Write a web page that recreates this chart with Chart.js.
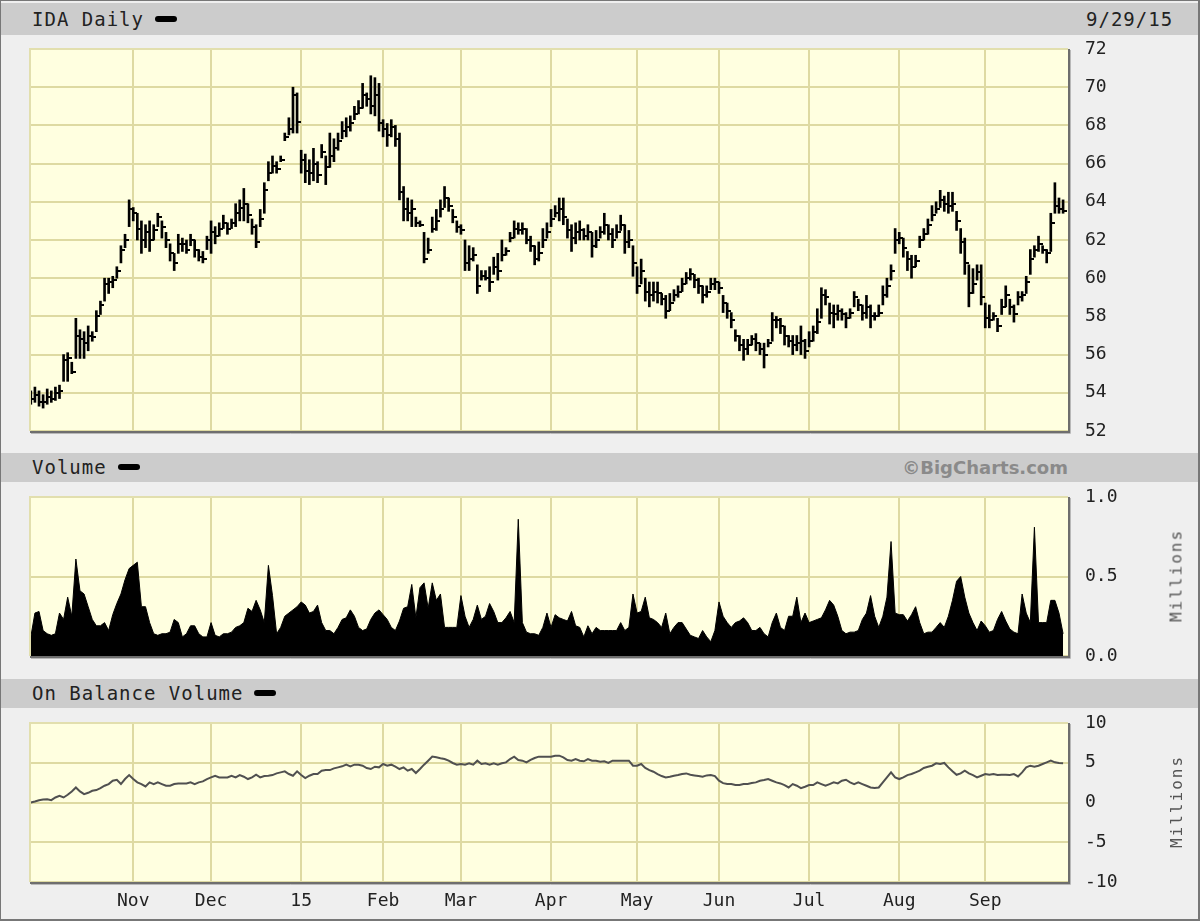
<!DOCTYPE html>
<html lang="en">
<head>
<meta charset="UTF-8">
<title>IDA Daily</title>
<script src="https://cdn.jsdelivr.net/npm/chart.js"></script>
<style>
  body { margin: 0; background: #eeeeee; }
  #frame { position: relative; width: 1200px; height: 921px; background: #efefef; overflow: hidden;
           font-family: "DejaVu Sans Mono", monospace; color: #222; }
  #edge { position: absolute; left: 0; top: 0; width: 1200px; height: 921px; box-sizing: border-box;
          border: 1px solid #777; border-right-width: 2px; border-bottom-width: 2px; pointer-events: none; }
  .hdr { position: absolute; left: 1px; right: 2px; background: #cccccc; font-size: 19px; letter-spacing: 1px; }
  .hdr .ttl { position: absolute; left: 31px; }
  .hdr .dash { display: inline-block; width: 22px; height: 6px; background: #000; border-radius: 3px;
               margin-left: 11px; vertical-align: middle; position: relative; top: -2px; }
  .hdr .date { position: absolute; left: 1085px; }
  .hdr .brand { position: absolute; right: 130px; font-family: "DejaVu Sans", sans-serif; font-weight: bold;
                font-size: 18px; letter-spacing: 0; color: #8a8a8a; }
  .unit { position: absolute; left: 1126px; width: 100px; text-align: center; font-size: 16px; letter-spacing: 2px;
          color: #555; transform: rotate(-90deg); }
  canvas { position: absolute; left: 0; }
</style>
</head>
<body>
<div id="frame">
  <div class="hdr" style="top:3px;height:32px;line-height:32px"><span class="ttl">IDA Daily<i class="dash"></i></span><span class="date">9/29/15</span></div>
  <canvas id="price" width="1200" height="410" style="top:36px"></canvas>

  <div class="hdr" style="top:453px;height:29px;line-height:29px"><span class="ttl">Volume<i class="dash"></i></span><span class="brand">©BigCharts.com</span></div>
  <canvas id="volume" width="1200" height="190" style="top:484px"></canvas>
  <div class="unit" style="top:566px">Millions</div>

  <div class="hdr" style="top:679px;height:29px;line-height:29px"><span class="ttl">On Balance Volume<i class="dash"></i></span></div>
  <canvas id="obv" width="1200" height="210" style="top:710px"></canvas>
  <div class="unit" style="top:792px">Millions</div>

  <div id="edge"></div>
</div>

<script>
// trading day index of first session of each month (0 = 9/29/14)
const monthStarts = [25, 44, 66, 86, 105, 127, 148, 168, 190, 212, 233];
const monthLabels = ['Nov', 'Dec', '15', 'Feb', 'Mar', 'Apr', 'May', 'Jun', 'Jul', 'Aug', 'Sep'];

// daily price, USD
const highs = [
  54.1,54.3,54.1,53.9,54.2,54.1,54.3,54.4,56.0,56.1,
  55.6,57.9,57.3,57.2,57.5,57.2,58.3,58.8,60.0,60.0,
  60.1,60.6,61.7,62.3,64.1,63.7,63.4,63.0,62.8,63.0,
  62.8,63.4,63.0,62.4,61.8,61.3,62.3,62.1,62.0,62.3,
  62.0,61.5,61.4,62.2,63.0,62.7,62.9,63.3,62.9,63.1,
  63.9,64.1,64.7,63.9,63.1,62.8,63.6,65.0,66.1,66.4,
  66.1,66.4,67.6,68.4,70.0,69.7,66.7,66.5,66.2,66.8,
  66.1,67.0,66.4,67.6,67.3,67.6,68.2,68.4,68.5,69.0,
  69.3,70.2,69.7,70.6,70.5,70.2,68.3,68.1,68.3,68.0,
  67.6,64.8,64.2,64.1,63.2,63.0,62.4,62.1,63.2,63.6,
  64.1,64.8,64.2,63.6,63.0,62.8,62.0,61.7,61.6,60.7,
  60.4,60.4,60.6,61.1,61.3,62.0,61.6,62.4,63.0,62.9,
  62.9,62.6,62.2,61.7,61.9,62.6,62.9,63.6,63.8,64.2,
  64.2,63.1,62.8,62.9,63.0,62.6,62.8,62.4,62.5,62.7,
  63.4,62.8,62.6,62.8,63.3,62.8,62.5,61.7,60.6,61.0,
  60.0,59.8,59.8,59.8,59.2,59.1,59.2,59.4,59.6,60.0,
  60.3,60.5,60.2,60.0,59.6,59.6,60.0,60.0,59.8,59.1,
  58.7,58.2,57.3,57.0,56.8,56.8,57.0,57.1,56.6,56.6,
  56.8,58.2,58.0,57.9,57.5,57.0,57.0,57.0,57.5,56.8,
  57.2,57.5,58.4,59.5,59.4,58.7,58.6,58.6,58.4,58.2,
  58.4,59.3,58.9,58.6,59.1,58.6,58.2,58.6,59.6,60.0,
  60.7,62.6,62.4,62.1,61.4,61.2,61.2,62.2,62.6,63.1,
  63.8,64.0,64.6,64.3,64.5,64.5,63.5,62.6,62.1,60.7,
  60.5,60.7,60.7,58.7,58.6,58.2,57.9,58.9,59.6,58.9,
  58.6,59.3,59.3,60.1,61.5,61.7,62.2,61.7,61.5,63.4,
  65.0,64.2,64.1
];
const lows = [
  53.4,53.5,53.3,53.2,53.4,53.5,53.6,53.7,54.6,54.6,
  55.0,55.8,55.8,55.8,56.2,56.7,57.2,58.1,58.8,59.2,
  59.5,60.0,60.8,61.6,62.7,63.0,62.0,61.3,61.6,61.4,
  62.0,62.7,62.1,61.6,60.9,60.4,61.3,61.4,61.3,61.7,
  61.1,60.9,60.8,61.5,61.3,61.8,62.2,62.6,62.3,62.6,
  62.7,63.0,63.0,62.9,62.3,61.6,62.7,63.4,65.1,65.5,
  65.5,66.1,67.2,67.5,67.6,67.6,65.5,65.0,64.9,65.1,
  65.0,66.3,64.9,65.8,66.1,66.7,67.3,67.4,67.7,68.3,
  68.6,68.9,69.0,68.6,68.5,67.7,67.4,66.9,67.4,66.9,
  64.1,63.0,63.0,62.7,62.7,62.7,60.8,61.3,62.4,62.5,
  63.2,63.7,63.5,62.9,62.4,62.3,60.4,60.4,60.9,59.2,
  59.9,59.9,59.3,60.2,59.9,60.9,61.2,61.9,62.1,62.3,
  62.3,61.8,61.4,60.7,60.9,61.6,62.1,62.7,63.2,63.0,
  62.8,62.1,61.4,61.8,62.0,62.0,62.0,61.1,61.6,62.1,
  62.3,62.0,61.6,62.1,62.5,61.3,61.6,60.1,59.2,59.7,
  58.8,58.5,58.8,58.7,58.6,57.9,58.3,58.8,59.0,59.3,
  59.7,59.9,59.5,59.2,58.7,59.0,59.4,59.4,59.2,58.2,
  57.9,57.4,56.7,56.2,55.7,56.0,56.5,56.2,56.0,55.3,
  56.4,56.7,57.4,57.1,56.5,56.4,56.0,56.2,56.0,55.8,
  56.4,56.7,57.1,57.9,58.6,57.6,57.4,57.8,57.8,57.4,
  57.9,58.5,58.3,57.8,57.9,57.4,57.8,58.0,58.6,59.0,
  59.9,61.3,61.8,61.1,60.4,60.0,60.6,61.6,62.0,62.3,
  63.0,63.4,63.7,63.5,63.4,63.5,62.5,61.3,60.2,58.5,
  59.2,59.9,58.6,57.4,57.4,57.8,57.2,58.1,58.5,58.1,
  57.7,58.6,58.8,59.2,60.2,61.1,61.4,61.3,60.8,61.4,
  63.4,63.4,63.4
];
const closes = [
  53.7,53.9,53.5,53.5,53.8,53.7,54.0,54.1,55.7,55.8,
  55.1,57.0,56.8,56.6,57.0,56.9,58.0,58.6,59.7,59.8,
  59.9,60.4,61.5,62.0,63.6,63.4,62.6,62.0,62.4,62.0,
  62.5,63.2,62.7,62.0,61.3,60.8,61.8,61.8,61.5,62.0,
  61.5,61.1,61.0,62.0,62.4,62.2,62.6,62.9,62.6,62.9,
  63.4,63.7,63.9,63.3,62.7,61.9,63.1,64.6,65.5,65.9,
  65.7,66.2,67.4,67.8,69.6,68.2,66.2,65.6,65.5,66.0,
  65.4,66.6,65.8,66.4,66.8,67.2,67.7,67.9,68.1,68.6,
  68.9,69.6,69.4,69.0,69.6,68.1,67.8,67.5,67.9,67.3,
  64.5,63.6,63.4,63.6,62.9,62.8,61.0,61.5,62.6,63.0,
  63.6,64.2,63.8,63.2,62.7,62.5,60.8,61.0,61.2,59.6,
  60.1,60.0,59.8,60.6,60.4,61.2,61.4,62.1,62.6,62.5,
  62.6,62.0,61.7,61.0,61.3,62.0,62.4,63.1,63.4,63.6,
  63.2,62.5,62.1,62.4,62.5,62.2,62.4,61.7,62.0,62.4,
  62.8,62.3,62.0,62.4,62.8,61.9,62.0,60.8,59.6,60.4,
  59.3,59.1,59.3,59.2,58.9,58.3,58.7,59.1,59.3,59.7,
  60.0,60.2,59.9,59.6,59.1,59.3,59.7,59.8,59.5,58.7,
  58.3,57.8,57.0,56.5,56.3,56.5,56.8,56.6,56.3,56.0,
  56.6,57.8,57.8,57.5,57.0,56.7,56.5,56.6,56.7,56.2,
  56.7,57.2,57.7,59.1,59.0,58.2,58.1,58.3,58.1,57.9,
  58.2,59.0,58.6,58.2,58.5,58.0,58.0,58.2,59.1,59.6,
  60.4,62.0,62.1,61.6,61.0,60.6,60.9,62.0,62.3,62.8,
  63.3,63.6,64.1,63.9,63.8,63.9,63.0,61.9,60.8,59.2,
  59.7,60.3,59.0,57.9,57.8,58.0,57.5,58.5,59.1,58.5,
  58.1,59.0,59.1,59.8,61.0,61.5,61.8,61.5,61.3,62.9,
  63.8,63.6,63.5
];

// daily volume, millions of shares
const volume = [
  0.12,0.27,0.28,0.16,0.14,0.13,0.14,0.27,0.23,0.37,
  0.25,0.61,0.41,0.39,0.31,0.23,0.19,0.19,0.21,0.16,
  0.26,0.33,0.39,0.48,0.55,0.57,0.59,0.31,0.31,0.21,
  0.14,0.13,0.14,0.14,0.15,0.23,0.21,0.12,0.14,0.19,
  0.19,0.14,0.12,0.12,0.21,0.13,0.12,0.14,0.14,0.15,
  0.18,0.19,0.21,0.30,0.28,0.35,0.29,0.21,0.57,0.38,
  0.14,0.18,0.25,0.27,0.29,0.31,0.34,0.32,0.27,0.28,
  0.32,0.21,0.16,0.16,0.14,0.18,0.23,0.24,0.29,0.25,
  0.18,0.16,0.17,0.23,0.27,0.29,0.26,0.23,0.18,0.16,
  0.22,0.30,0.31,0.45,0.24,0.43,0.46,0.30,0.46,0.35,
  0.39,0.18,0.18,0.18,0.18,0.38,0.25,0.18,0.23,0.32,
  0.23,0.25,0.33,0.28,0.21,0.21,0.24,0.28,0.21,0.86,
  0.21,0.15,0.14,0.14,0.13,0.18,0.27,0.18,0.26,0.24,
  0.23,0.22,0.28,0.19,0.18,0.12,0.19,0.14,0.18,0.16,
  0.16,0.16,0.16,0.16,0.21,0.16,0.18,0.39,0.27,0.28,
  0.37,0.24,0.23,0.21,0.18,0.27,0.14,0.18,0.21,0.21,
  0.17,0.13,0.12,0.11,0.16,0.12,0.09,0.16,0.34,0.25,
  0.21,0.18,0.21,0.22,0.24,0.21,0.16,0.16,0.18,0.14,
  0.12,0.21,0.27,0.18,0.16,0.25,0.25,0.37,0.21,0.27,
  0.21,0.22,0.23,0.24,0.29,0.35,0.32,0.25,0.16,0.14,
  0.15,0.15,0.16,0.23,0.27,0.38,0.25,0.18,0.25,0.37,
  0.72,0.27,0.26,0.26,0.22,0.26,0.31,0.21,0.14,0.15,
  0.15,0.18,0.21,0.18,0.25,0.35,0.47,0.50,0.37,0.27,
  0.21,0.16,0.22,0.19,0.15,0.16,0.23,0.28,0.22,0.17,
  0.15,0.14,0.39,0.27,0.21,0.81,0.21,0.21,0.21,0.35,
  0.35,0.27,0.14
];

// on balance volume, millions
const obv = [
  0.00,0.13,0.29,0.38,0.42,0.29,0.63,0.84,0.63,0.97,
  1.39,1.89,1.39,1.05,1.22,1.47,1.56,1.81,2.11,2.32,
  2.74,2.86,2.32,2.95,3.45,2.95,2.53,2.32,2.02,2.53,
  2.32,2.53,2.32,2.11,2.11,2.32,2.40,2.40,2.40,2.53,
  2.32,2.53,2.65,2.95,3.16,3.37,3.16,3.16,3.16,3.37,
  3.16,3.45,3.24,2.95,3.16,3.49,3.16,3.33,3.37,3.45,
  3.66,3.79,3.92,3.58,3.37,3.92,3.45,3.07,3.37,3.58,
  3.58,4.00,4.08,4.08,4.29,4.42,4.55,4.76,4.55,4.76,
  4.76,4.63,4.34,4.21,4.50,4.42,4.84,4.63,4.76,4.50,
  4.21,4.42,4.00,4.21,3.70,4.21,4.76,5.26,5.77,5.68,
  5.56,5.47,5.26,4.97,4.76,4.84,4.76,4.93,4.76,5.26,
  4.84,4.93,4.76,4.93,4.76,4.93,5.05,5.47,5.77,5.35,
  5.26,5.05,5.35,5.60,5.77,5.77,5.77,5.77,5.89,5.89,
  5.68,5.35,5.26,5.47,5.26,5.18,5.47,5.26,5.26,5.14,
  5.18,4.97,5.26,5.26,5.26,5.26,5.26,4.63,4.63,4.84,
  4.34,4.08,3.87,3.58,3.33,3.16,3.24,3.37,3.45,3.58,
  3.66,3.49,3.41,3.33,3.24,3.41,3.45,3.33,2.74,2.44,
  2.32,2.32,2.19,2.19,2.32,2.32,2.44,2.53,2.74,2.82,
  2.95,2.74,2.53,2.40,2.19,1.89,2.32,2.11,1.81,1.98,
  2.19,2.19,2.53,2.32,2.11,2.32,2.53,2.40,2.74,2.86,
  2.53,2.32,2.53,2.32,2.11,1.89,1.81,1.89,2.53,3.16,
  3.79,3.16,2.95,3.16,3.45,3.58,3.79,4.00,4.34,4.50,
  4.63,4.93,4.84,4.97,4.42,3.92,3.49,3.66,4.00,3.66,
  3.45,3.16,3.37,3.58,3.49,3.58,3.45,3.49,3.49,3.45,
  3.58,3.28,3.79,4.42,4.63,4.50,4.63,4.84,5.05,5.26,
  5.05,4.97,4.93
];

const plotBg = '#ffffe0';
const gridColor = '#dedaa2';
const tickFont = { family: '"DejaVu Sans Mono", monospace', size: 18 };

// little tick on the right of each bar for the close
const closeTick = document.createElement('canvas');
closeTick.width = 8;
closeTick.height = 2;
const tctx = closeTick.getContext('2d');
tctx.fillStyle = '#000';
tctx.fillRect(4, 0, 4, 2);

// yellow plot area with a shaded frame
const panelPlugin = {
  id: 'panel',
  beforeDraw(chart) {
    const { ctx, chartArea: a } = chart;
    ctx.save();
    ctx.fillStyle = plotBg;
    ctx.fillRect(a.left, a.top, a.right - a.left, a.bottom - a.top);
    ctx.restore();
  },
  afterDraw(chart) {
    const { ctx, chartArea: a } = chart;
    ctx.save();
    ctx.lineWidth = 2;
    ctx.strokeStyle = '#e2dfae';
    ctx.beginPath();
    ctx.moveTo(a.left, a.bottom); ctx.lineTo(a.left, a.top); ctx.lineTo(a.right, a.top);
    ctx.stroke();
    ctx.strokeStyle = '#6e6e6e';
    ctx.beginPath();
    ctx.moveTo(a.left, a.bottom + 1); ctx.lineTo(a.right + 1, a.bottom + 1); ctx.lineTo(a.right + 1, a.top);
    ctx.stroke();
    ctx.lineWidth = 1;
    ctx.strokeStyle = '#b8b8b8';
    ctx.beginPath();
    ctx.moveTo(a.left + 1, a.bottom + 2.5); ctx.lineTo(a.right + 2.5, a.bottom + 2.5); ctx.lineTo(a.right + 2.5, a.top + 1);
    ctx.stroke();
    ctx.restore();
  }
};

function xAxis(showLabels) {
  return {
    type: 'linear',
    min: -0.2,
    max: 253.2,
    offset: false,
    afterBuildTicks: s => { s.ticks = monthStarts.map(v => ({ value: v })); },
    afterFit: s => { s.height = showLabels ? 38 : 0; },
    grid: { color: gridColor, lineWidth: 2, drawTicks: false, offset: false },
    border: { display: false },
    ticks: {
      display: showLabels,
      autoSkip: false,
      maxRotation: 0,
      padding: 9,
      color: '#222',
      font: tickFont,
      callback: (v, i) => monthLabels[i]
    }
  };
}

// tick labels pushed right by an invisible 17px tick mark
function yAxis(min, max, step, fmt) {
  return {
    position: 'right',
    min: min,
    max: max,
    afterFit: s => { s.width = 132; },
    grid: { color: gridColor, lineWidth: 2, drawTicks: true, tickLength: 17, tickColor: 'rgba(0,0,0,0)' },
    border: { display: false },
    ticks: { stepSize: step, padding: 0, color: '#222', font: tickFont, callback: fmt }
  };
}

const baseOptions = {
  responsive: false,
  animation: false,
  events: [],
  plugins: { legend: { display: false }, tooltip: { enabled: false } }
};

// price bars
new Chart(document.getElementById('price'), {
  type: 'bar',
  data: {
    datasets: [
      {
        data: highs.map((h, i) => ({ x: i, y: [lows[i], h] })),
        backgroundColor: '#000',
        borderWidth: 0,
        barThickness: 2
      },
      {
        type: 'line',
        data: closes.map((c, i) => ({ x: i, y: c })),
        showLine: false,
        pointStyle: closeTick,
        pointRadius: 2
      }
    ]
  },
  options: {
    ...baseOptions,
    layout: { padding: { left: 30, top: 13, right: 0, bottom: 15 } },
    scales: {
      x: xAxis(false),
      y: yAxis(52, 72, 2, v => v)
    }
  },
  plugins: [panelPlugin]
});

// volume
new Chart(document.getElementById('volume'), {
  type: 'line',
  data: {
    datasets: [{
      data: volume.map((v, i) => ({ x: i, y: v })),
      fill: 'origin',
      backgroundColor: '#000',
      borderColor: '#000',
      borderWidth: 1,
      pointRadius: 0,
      tension: 0
    }]
  },
  options: {
    ...baseOptions,
    layout: { padding: { left: 30, top: 13, right: 0, bottom: 18 } },
    scales: {
      x: xAxis(false),
      y: yAxis(0, 1, 0.5, v => v.toFixed(1))
    }
  },
  plugins: [panelPlugin]
});

// on balance volume
new Chart(document.getElementById('obv'), {
  type: 'line',
  data: {
    datasets: [{
      data: obv.map((v, i) => ({ x: i, y: v })),
      borderColor: '#505050',
      borderWidth: 2,
      pointRadius: 0,
      tension: 0
    }]
  },
  options: {
    ...baseOptions,
    layout: { padding: { left: 30, top: 13, right: 0, bottom: 0 } },
    scales: {
      x: xAxis(true),
      y: yAxis(-10, 10, 5, v => v)
    }
  },
  plugins: [panelPlugin]
});
</script>
</body>
</html>
